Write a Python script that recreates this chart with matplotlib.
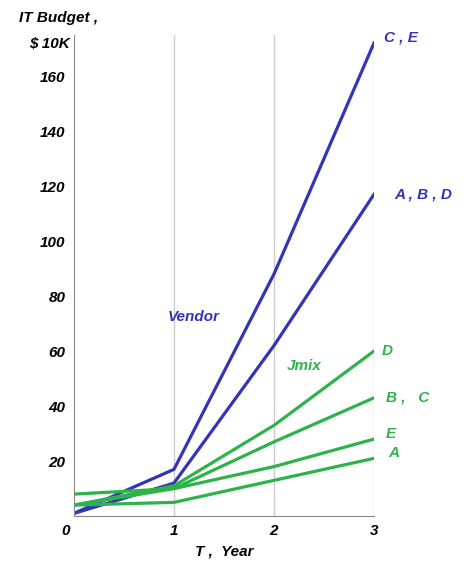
import matplotlib.pyplot as plt

years = [0, 1, 2, 3]
vendor_ce = [1, 17, 88, 172]
vendor_abd = [1, 12, 62, 117]
jmix_d = [4, 11, 33, 60]
jmix_bc = [4, 10, 27, 43]
jmix_e = [8, 10, 18, 28]
jmix_a = [4, 5, 13, 21]

blue = "#3434b8"
green = "#2db34a"
font = dict(fontsize=11, fontweight="bold", fontstyle="italic", family="Liberation Sans")

fig = plt.figure(figsize=(4.74, 5.61), dpi=100)
ax = fig.add_axes([0.156, 0.080, 0.633, 0.858])
for x in [1, 2, 3]:
    ax.axvline(x, color="#cccccc", lw=1, zorder=0)
for ys in [vendor_ce, vendor_abd]:
    ax.plot(years, ys, color=blue, lw=2.3)
for ys in [jmix_d, jmix_bc, jmix_e, jmix_a]:
    ax.plot(years, ys, color=green, lw=2.3)

ax.set_xlim(0, 3)
ax.set_ylim(0, 175)
ax.set_xticks([0, 1, 2, 3])
ax.set_yticks(range(20, 161, 20))
ax.set_xticklabels(["", "1", "2", "3"])
for lab in ax.get_xticklabels() + ax.get_yticklabels():
    lab.set(**font)
ax.tick_params(length=0, pad=6)
for s in ["top", "right"]:
    ax.spines[s].set_visible(False)
ax.spines["left"].set_color("#888888")
ax.spines["bottom"].set_color("#888888")
ax.text(-0.04, -3, "0", ha="right", va="top", **font)

ax.text(3.1, 174, "C , E", color=blue, ha="left", va="center", **font)
ax.text(3.2, 117, "A , B , D", color=blue, ha="left", va="center", **font)
ax.text(1.2, 71, "Vendor", color=blue, ha="center", **font)
ax.text(2.3, 53, "Jmix", color=green, ha="center", **font)
ax.text(3.08, 60, "D", color=green, ha="left", va="center", **font)
ax.text(3.12, 43, "B ,   C", color=green, ha="left", va="center", **font)
ax.text(3.12, 30, "E", color=green, ha="left", va="center", **font)
ax.text(3.14, 23, "A", color=green, ha="left", va="center", **font)

ax.text(-0.55, 181, "IT Budget ,", ha="left", va="center", **font)
ax.text(-0.45, 172, "$ 10K", ha="left", va="center", **font)
ax.set_xlabel("T ,  Year", **font)

fig.savefig("out.png", dpi=100)
